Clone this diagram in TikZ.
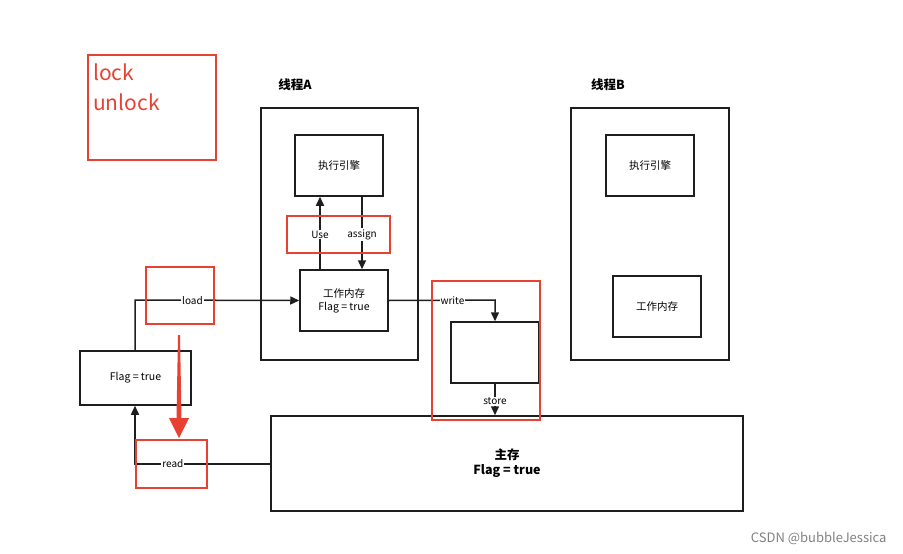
\documentclass[tikz,border=0pt]{standalone}
\usepackage{fontspec}
\setmainfont{Noto Sans CJK SC}
\usetikzlibrary{positioning,arrows.meta,calc}
\definecolor{markred}{RGB}{232,65,50}
\definecolor{lineblack}{RGB}{30,30,30}

\begin{document}
\begin{tikzpicture}[x=1pt,y=-1pt,
    box/.style={draw=lineblack, line width=1.5pt, inner sep=0pt, font=\fontsize{10.5}{13}\selectfont, align=center},
    redmark/.style={draw=markred, line width=1.8pt},
    arrow/.style={-{Triangle[length=9pt,width=8pt]}, line width=1.5pt, draw=lineblack},
    lbl/.style={fill=white, inner sep=1pt, font=\fontsize{10}{12}\selectfont}
]
\useasboundingbox (0,0) rectangle (903,554);

% Lock / unlock
\node[redmark, minimum width=128pt, minimum height=105pt] (lockbox) at (152,107.5) {};
\node[text=markred, font=\fontsize{21}{30}\selectfont, align=left, anchor=north west, inner sep=0pt] (locktxt) at (93,64) {lock\\unlock};

% Thread A
\node[font=\bfseries\fontsize{12.5}{15}\selectfont] (tA) at (295,85) {线程A};
\node[box, minimum width=157pt, minimum height=252pt] (thA) at (339.5,234) {};
\node[box, minimum width=88pt, minimum height=61pt] (engA) at (339,165.5) {执行引擎};
\node[box, minimum width=88pt, minimum height=61pt] (memA) at (344,300.5) {工作内存\\Flag = true};

% Thread B
\node[font=\bfseries\fontsize{12.5}{15}\selectfont] (tB) at (608,85) {线程B};
\node[box, minimum width=158pt, minimum height=252pt] (thB) at (650,234) {};
\node[box, minimum width=88pt, minimum height=61pt] (engB) at (650,165.5) {执行引擎};
\node[box, minimum width=88pt, minimum height=61pt] (memB) at (657,306.5) {工作内存};

% Main memory and local copies
\node[box, minimum width=472pt, minimum height=95pt, font=\bfseries\fontsize{12.5}{15}\selectfont] (main) at (507,463.5) {主存\\Flag = true};
\node[box, minimum width=111pt, minimum height=54pt] (flag) at (135.5,378) {Flag = true};
\node[box, minimum width=88pt, minimum height=61pt] (buf) at (495,352.5) {};

% Use / assign
\draw[arrow] (memA.north -| 320,0) -- node[lbl, pos=0.48] (use) {Use} (engA.south -| 320,0);
\draw[arrow] (engA.south -| 362,0) -- node[lbl, pos=0.52] (assign) {assign} (memA.north -| 362,0);

% load / read
\coordinate (loadc) at (135,300);
\draw[arrow] (flag.north -| loadc) -- (loadc) -- node[lbl, pos=0.35] (load) {load} (memA.west);
\coordinate (readc) at (135,464);
\draw[arrow] (main.west |- readc) -- node[lbl, pos=0.72] (read) {read} (readc) -- (flag.south -| readc);

% write / store
\coordinate (writec) at (495,300);
\draw[arrow] (memA.east) -- node[lbl, pos=0.6] (write) {write} (writec) -- (buf.north);
\draw[arrow] (buf.south) -- node[lbl, pos=0.55] (store) {store} (main.north -| buf.south);

% Red highlights
\draw[redmark] (287,216) rectangle (390,253);
\draw[redmark] (146,267) rectangle (214,324);
\draw[redmark] (136,440) rectangle (207,488);
\draw[redmark] (432,281) rectangle (540,420);
\fill[markred] (178,335) -- (180,335) -- (181.5,418) -- (189,418) -- (179,438) -- (169,418) -- (176.5,418) -- cycle;

% Watermark
\node[text=gray, font=\fontsize{13}{15}\selectfont, anchor=east] (wm) at (890,538) {CSDN @bubbleJessica};
\end{tikzpicture}
\end{document}
